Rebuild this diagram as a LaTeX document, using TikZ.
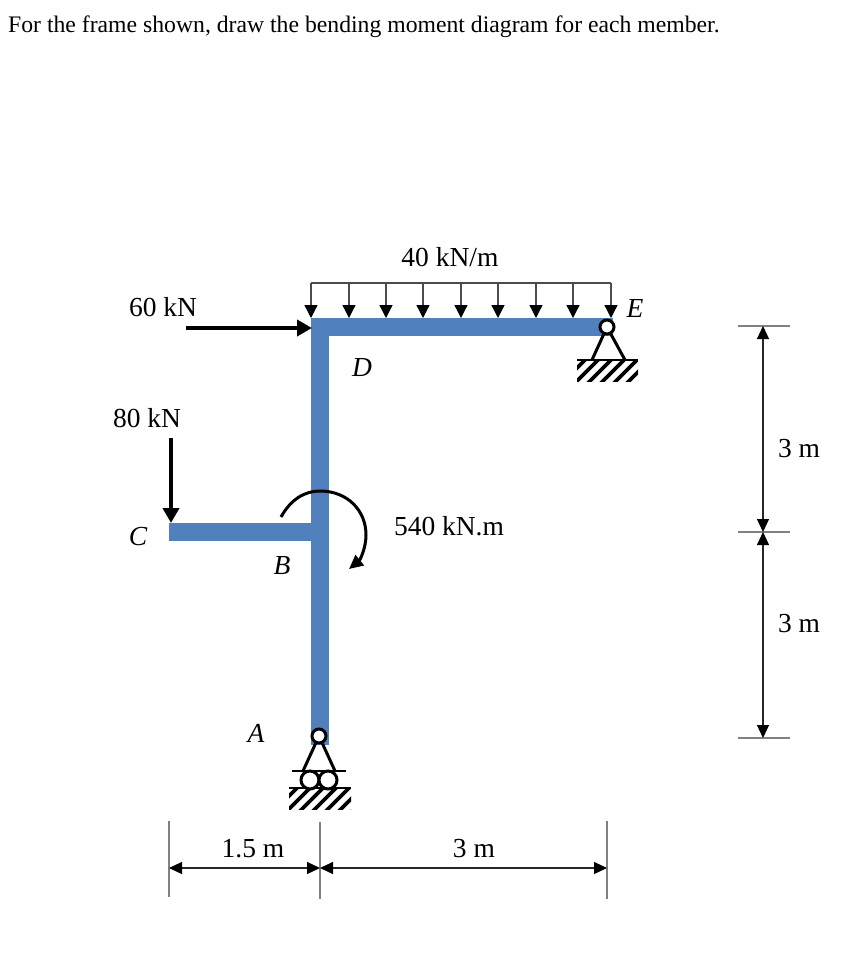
\documentclass[tikz,border=0pt]{standalone}
\usepackage{fontspec}
\setmainfont{Liberation Serif}
\usetikzlibrary{arrows.meta}
\definecolor{member}{HTML}{5081BD}
\definecolor{tick}{HTML}{808080}
\tikzset{
  lbl/.style={inner sep=0pt,font=\fontsize{27.5}{27.5}\selectfont,text=black},
  letter/.style={lbl,font=\fontsize{27.5}{27.5}\selectfont\itshape},
  beam/.style={fill=member,draw=none},
  pinline/.style={line width=3pt,black},
  pinball/.style={circle,draw=black,fill=white,line width=3pt,minimum size=14pt,inner sep=0pt},
  roller/.style={circle,draw=black,fill=white,line width=3pt,minimum size=18pt,inner sep=0pt},
  force/.style={line width=4pt,black,-{Triangle[length=15pt,width=16pt]}},
  udl/.style={line width=1.3pt,black!70,-{Triangle[length=13pt,width=13pt,color=black]}},
  dim/.style={line width=1.2pt,black!85,{Triangle[length=13pt,width=12pt,color=black]}-{Triangle[length=13pt,width=12pt,color=black]}},
  ticks/.style={line width=1.4pt,tick},
  ground/.style={line width=2.6pt,black},
  hatch/.style={line width=3.6pt,black}
}
\begin{document}
\begin{tikzpicture}[x=1pt,y=-1pt]
\useasboundingbox (0,0) rectangle (844,972);
\node[lbl,anchor=west,font=\fontsize{23.7}{24}\selectfont] (title) at (8,27) {For the frame shown, draw the bending moment diagram for each member.};
% members
\fill[beam] (311,318) rectangle (613,336);
\fill[beam] (311,318) rectangle (329,745);
\fill[beam] (169,523) rectangle (311,541);
% distributed load
\coordinate (l0) at (311,283); \coordinate (l1) at (611,283);
\draw[line width=1.3pt,black!70] (l0) -- (l1);
\foreach \i/\x in {1/311,2/349,3/386,4/423,5/461,6/498,7/536,8/573,9/611}{
  \coordinate (t\i) at (\x,283); \coordinate (b\i) at (\x,318);
  \draw[udl] (t\i) -- (b\i);
}
% point forces
\coordinate (f60a) at (186,328); \coordinate (f60b) at (312,328);
\draw[force] (f60a) -- (f60b);
\coordinate (f80a) at (171,438); \coordinate (f80b) at (171,523);
\draw[force] (f80a) -- (f80b);
% moment
\draw[line width=3pt,black,-{Triangle[length=14pt,width=13pt]}] (281,517) .. controls (291,499) and (305,491) .. (320,491) .. controls (347,491) and (366,510) .. (366,535) .. controls (366,548) and (360,560) .. (349,569);
% support E
\begin{scope}
  \clip (577,361) rectangle (638,381);
  \foreach \d in {0,13,...,91}{\draw[hatch] (560+\d,385) -- (590+\d,355);}
\end{scope}
\coordinate (el) at (592,360); \coordinate (er) at (625,360);
\coordinate (gel) at (577,360); \coordinate (ger) at (638,360);
\draw[ground] (gel) -- (ger);
\node[pinball] (pe) at (607,327) {};
\draw[pinline] (pe) -- (el);
\draw[pinline] (pe) -- (er);
% support A
\begin{scope}
  \clip (289,789) rectangle (351,809);
  \foreach \d in {0,13,...,91}{\draw[hatch] (272+\d,813) -- (302+\d,783);}
\end{scope}
\coordinate (al) at (303,771); \coordinate (ar) at (335,771);
\coordinate (bl) at (292,771); \coordinate (br) at (346,771);
\coordinate (gal) at (289,788); \coordinate (gar) at (351,788);
\node[pinball] (pa) at (319,736) {};
\draw[pinline] (pa) -- (al);
\draw[pinline] (pa) -- (ar);
\draw[ground] (bl) -- (br);
\draw[ground] (gal) -- (gar);
\node[roller] (r1) at (310,780) {};
\node[roller] (r2) at (328,780) {};
% horizontal dimensions
\coordinate (h1a) at (169,821); \coordinate (h1b) at (169,897);
\coordinate (h2a) at (320,822); \coordinate (h2b) at (320,899);
\coordinate (h3a) at (607,821); \coordinate (h3b) at (607,899);
\draw[ticks] (h1a) -- (h1b); \draw[ticks] (h2a) -- (h2b); \draw[ticks] (h3a) -- (h3b);
\coordinate (d1) at (169,868); \coordinate (d2) at (320,868); \coordinate (d3) at (607,868);
\draw[dim] (d1) -- (d2);
\draw[dim] (d2) -- (d3);
% vertical dimensions
\coordinate (v1a) at (738,326); \coordinate (v1b) at (790,326);
\coordinate (v2a) at (738,532); \coordinate (v2b) at (790,532);
\coordinate (v3a) at (738,738); \coordinate (v3b) at (790,738);
\draw[ticks] (v1a) -- (v1b); \draw[ticks] (v2a) -- (v2b); \draw[ticks] (v3a) -- (v3b);
\coordinate (e1) at (763,326); \coordinate (e2) at (763,532); \coordinate (e3) at (763,738);
\draw[dim] (e1) -- (e2);
\draw[dim] (e2) -- (e3);
% labels
\node[lbl] (w) at (450,257) {40 kN/m};
\node[lbl] (p60) at (163,307) {60 kN};
\node[lbl] (p80) at (147,418) {80 kN};
\node[lbl] (m) at (449,526) {540 kN.m};
\node[lbl] (s1) at (799,449) {3 m};
\node[lbl] (s2) at (799,624) {3 m};
\node[lbl] (s3) at (253,849) {1.5 m};
\node[lbl] (s4) at (474,849) {3 m};
\node[letter] (E) at (635,308) {E};
\node[letter] (D) at (362,368) {D};
\node[letter] (C) at (138,537) {C};
\node[letter] (B) at (282,566) {B};
\node[letter] (A) at (256,733) {A};
\end{tikzpicture}
\end{document}
